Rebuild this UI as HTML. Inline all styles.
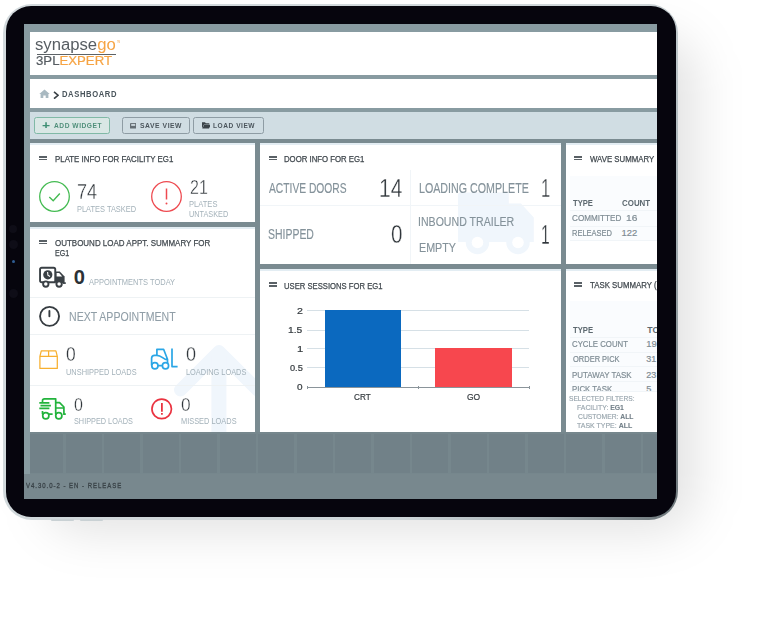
<!DOCTYPE html>
<html><head><meta charset="utf-8">
<style>
*{margin:0;padding:0;box-sizing:border-box}
html,body{width:768px;height:623px;overflow:hidden;background:#fff;font-family:"Liberation Sans",sans-serif}
.abs{position:absolute}
.t{position:absolute;white-space:nowrap;line-height:1;transform-origin:0 0}
#shadow{position:absolute;left:44px;top:36px;width:652px;height:496px;border-radius:40px;background:rgba(0,0,0,0.115);filter:blur(24px)}
#rim{position:absolute;left:3px;top:3.8px;width:674.8px;height:516.2px;border-radius:29px;background:linear-gradient(115deg,#d3dadd 0%,#cdd5d8 70%,#a5b0b4 85%,#6a7478 100%)}
#body{position:absolute;left:5.6px;top:5.6px;width:670.3px;height:511px;border-radius:25px;background:#06050d}
#screen{position:absolute;left:24px;top:24px;width:633px;height:475px;background:#889ba1;overflow:hidden}
</style></head><body>
<div id="shadow"></div>
<div id="rim"></div>
<div id="body"></div>
<div class="abs" style="left:50.5px;top:518.6px;width:23px;height:2.6px;border-radius:1.2px;background:#c9d1d4"></div>
<div class="abs" style="left:79.5px;top:518.6px;width:23.5px;height:2.6px;border-radius:1.2px;background:#c9d1d4"></div>
<div class="abs" style="left:9.4px;top:224.7px;width:8px;height:8px;border-radius:50%;background:#0e0d17"></div>
<div class="abs" style="left:9px;top:240.1px;width:9px;height:9px;border-radius:50%;background:#0e0d17"></div>
<div class="abs" style="left:12px;top:259.7px;width:3px;height:3px;border-radius:50%;background:#2f5d92"></div>
<div class="abs" style="left:9px;top:289.3px;width:9px;height:9px;border-radius:50%;background:#0e0d17"></div>
<div id="screen">
<div class="abs" style="left:6.30px;top:8.00px;width:669.70px;height:42.60px;background:#fff"></div>
<div class="t" style="left:11.13px;top:12.55px;font-size:15.600px;color:#575d62;transform:scaleX(1.070);">synapse<span style="color:#f6a444">go</span></div>
<div class="abs" style="left:12.80px;top:29.50px;width:79.20px;height:1.40px;background:#5d6367"></div>
<div class="t" style="left:12.41px;top:30.35px;font-size:13.380px;color:#575d62;transform:scaleX(0.986);-webkit-text-stroke:0.22px currentColor;">3PL<span style="color:#f6a444">EXPERT</span></div>
<div class="t" style="left:93.00px;top:16.50px;font-size:2.899px;color:#f6a444;transform:scaleX(0.750);">TM</div>
<div class="abs" style="left:6.30px;top:54.70px;width:669.70px;height:29.30px;background:#fff"></div>
<svg class="abs" style="left:15.00px;top:64.80px" width="11" height="9.5" viewBox="0 0 11 9.5"><path d="M5.5 0.5 L0.3 5 L1.6 5 L1.6 9.5 L4.3 9.5 L4.3 6.5 L6.7 6.5 L6.7 9.5 L9.4 9.5 L9.4 5 L10.7 5 Z" fill="#a9b9c1"/></svg>
<svg class="abs" style="left:28.50px;top:66.50px" width="6" height="8.5" viewBox="0 0 6 8.5"><path d="M1 0.8 L5 4.25 L1 7.7" fill="none" stroke="#3a4146" stroke-width="1.6"/></svg>
<div class="t" style="left:38.26px;top:66.90px;font-size:8.169px;color:#4a555c;font-weight:bold;letter-spacing:0.080em;transform:scaleX(0.935);">DASHBOARD</div>
<div class="abs" style="left:6.30px;top:88.10px;width:669.70px;height:26.60px;background:#d0dde3"></div>
<div class="abs" style="left:10.30px;top:92.80px;width:75.50px;height:17.40px;border:1.3px solid #80b9a6;border-radius:2.5px;background:#d9e7e5"></div>
<div class="t" style="left:17.72px;top:94.60px;font-size:11.765px;color:#3f8f74;font-weight:bold;transform:scaleX(1.180);">+</div>
<div class="t" style="left:29.60px;top:98.15px;font-size:7.746px;color:#4f8f7a;font-weight:bold;letter-spacing:0.080em;transform:scaleX(0.858);">ADD WIDGET</div>
<div class="abs" style="left:98.00px;top:92.60px;width:67.60px;height:17.20px;border:1.3px solid #8e9ca4;border-radius:2.5px"></div>
<svg class="abs" style="left:105.80px;top:98.50px" width="6.2" height="6.2" viewBox="0 0 6.2 6.2"><rect x="0" y="0" width="6.4" height="5.6" rx="0.5" fill="#646e74"/><rect x="1.2" y="0.9" width="4" height="2" fill="#c9d4da"/></svg>
<div class="t" style="left:115.94px;top:98.00px;font-size:7.887px;color:#4b555c;font-weight:bold;letter-spacing:0.080em;transform:scaleX(0.861);">SAVE VIEW</div>
<div class="abs" style="left:169.30px;top:92.60px;width:70.45px;height:17.20px;border:1.3px solid #8e9ca4;border-radius:2.5px"></div>
<svg class="abs" style="left:177.70px;top:98.30px" width="8.8" height="6.5" viewBox="0 0 8.8 6.5"><path d="M0 0.3 H3 L3.8 1.2 H7.3 V2.4 H2 L0 6.5 Z" fill="#3a4348"/><path d="M2.2 2.8 H8.8 L7 6.5 H0.3 Z" fill="#3a4348"/></svg>
<div class="t" style="left:189.36px;top:98.00px;font-size:7.887px;color:#4b555c;font-weight:bold;letter-spacing:0.080em;transform:scaleX(0.837);">LOAD VIEW</div>
<div class="abs" style="left:6.00px;top:114.70px;width:670.00px;height:335.00px;background:#7a8b91"></div>
<div class="abs" style="left:6.00px;top:118.50px;width:225.20px;height:79.90px;background:#fff;border-top:2.5px solid #e3edf3"></div>
<div class="abs" style="left:6.00px;top:202.90px;width:225.20px;height:205.10px;background:#fff;border-top:2.5px solid #e3edf3"></div>
<div class="abs" style="left:236.00px;top:118.50px;width:300.70px;height:121.20px;background:#fff;border-top:2.5px solid #e3edf3"></div>
<div class="abs" style="left:236.00px;top:245.00px;width:300.70px;height:163.50px;background:#fff;border-top:2.5px solid #e3edf3"></div>
<div class="abs" style="left:541.50px;top:118.50px;width:134.50px;height:121.50px;background:#fff;border-top:2.5px solid #e3edf3"></div>
<div class="abs" style="left:541.50px;top:245.00px;width:134.50px;height:163.50px;background:#fff;border-top:2.5px solid #e3edf3"></div>
<div class="abs" style="left:15.20px;top:132.00px;width:7.50px;height:1.80px;background:#5a6166"></div><div class="abs" style="left:15.20px;top:134.90px;width:7.50px;height:1.50px;background:#5a6166"></div>
<div class="t" style="left:30.67px;top:131.30px;font-size:8.451px;color:#40484e;transform:scaleX(0.934);-webkit-text-stroke:0.25px #40484e;">PLATE INFO FOR FACILITY EG1</div>
<svg class="abs" style="left:14.50px;top:157.00px" width="31" height="31" viewBox="0 0 31 31"><circle cx="15.5" cy="15.5" r="14.8" fill="none" stroke="#44bb52" stroke-width="1.3"/><path d="M10.3 16 L14.2 19.7 L20.8 12.6" fill="none" stroke="#44bb52" stroke-width="1.4"/></svg>
<div class="t" style="left:52.96px;top:156.95px;font-size:21.594px;color:#30363b;transform:scaleX(0.836);-webkit-text-stroke:0.35px #fff;">74</div>
<div class="t" style="left:53.02px;top:180.00px;font-size:9.577px;color:#a4b2ba;transform:scaleX(0.778);">PLATES TASKED</div>
<svg class="abs" style="left:126.80px;top:156.60px" width="31" height="31" viewBox="0 0 31 31"><circle cx="15.5" cy="15.5" r="14.8" fill="none" stroke="#ee4a50" stroke-width="1.3"/><path d="M15.5 7.5 V18.5" stroke="#ee4a50" stroke-width="1.5"/><circle cx="15.5" cy="22.6" r="1" fill="#ee4a50"/></svg>
<div class="t" style="left:165.50px;top:152.55px;font-size:20.143px;color:#30363b;transform:scaleX(0.795);-webkit-text-stroke:0.35px #fff;">21</div>
<div class="t" style="left:165.45px;top:176.15px;font-size:8.873px;color:#a4b2ba;transform:scaleX(0.853);">PLATES</div>
<div class="t" style="left:165.40px;top:186.70px;font-size:8.169px;color:#a4b2ba;transform:scaleX(0.895);">UNTASKED</div>
<div class="abs" style="left:15.40px;top:215.80px;width:7.50px;height:1.80px;background:#5a6166"></div><div class="abs" style="left:15.40px;top:218.70px;width:7.50px;height:1.50px;background:#5a6166"></div>
<div class="t" style="left:30.68px;top:214.25px;font-size:9.718px;color:#40484e;transform:scaleX(0.822);-webkit-text-stroke:0.25px #40484e;">OUTBOUND LOAD APPT. SUMMARY FOR</div>
<div class="t" style="left:30.69px;top:225.40px;font-size:8.732px;color:#40484e;transform:scaleX(0.812);-webkit-text-stroke:0.25px #40484e;">EG1</div>
<div class="abs" style="left:6.00px;top:203.00px;width:225.20px;height:205.00px;overflow:hidden">
<svg class="abs" style="left:0;top:0" width="226" height="205" viewBox="30 227 226 205"><path d="M180.5 390 L219 351.5 L257.5 390" fill="none" stroke="#f0f6fc" stroke-width="13" stroke-linecap="round" stroke-linejoin="round"/><path d="M218.9 356 V440" stroke="#f0f6fc" stroke-width="15"/></svg>
</div>
<svg class="abs" style="left:15.00px;top:242.00px" width="28" height="23" viewBox="0 0 28 23"><rect x="1.05" y="1.75" width="15.2" height="14.5" rx="1.6" fill="none" stroke="#3a4045" stroke-width="1.9"/><circle cx="8.8" cy="8.8" r="4.6" fill="#3a4045"/><path d="M8.6 6 L8.9 9.2 L11 10.4" fill="none" stroke="#fff" stroke-width="1.1"/><path d="M16.3 5.4 H20.8 L25.6 10.6 V17.2 H16.3 Z" fill="#3a4045"/><path d="M17.6 7 H20.2 L23.2 10.4 H17.6 Z" fill="#fff"/><rect x="24" y="16.3" width="2.8" height="1.6" fill="#3a4045"/><circle cx="6.8" cy="18.1" r="2.7" fill="#fff" stroke="#3a4045" stroke-width="1.9"/><circle cx="20.1" cy="18.1" r="2.7" fill="#fff" stroke="#3a4045" stroke-width="1.9"/></svg>
<div class="t" style="left:49.70px;top:243.15px;font-size:20.141px;color:#2b3136;font-weight:bold;">0</div>
<div class="t" style="left:64.90px;top:254.00px;font-size:8.451px;color:#a4b2ba;transform:scaleX(0.887);">APPOINTMENTS TODAY</div>
<div class="abs" style="left:6.00px;top:273.00px;width:225.20px;height:0.80px;background:#eef2f4"></div>
<svg class="abs" style="left:14.00px;top:281.00px" width="23" height="23" viewBox="0 0 23 23"><circle cx="11.55" cy="11.35" r="9.5" fill="none" stroke="#363c41" stroke-width="1.9"/><path d="M11.4 5.9 V11.2" stroke="#363c41" stroke-width="1.9" stroke-linecap="round"/></svg>
<div class="t" style="left:44.64px;top:286.75px;font-size:12.254px;color:#909ea7;transform:scaleX(0.862);-webkit-text-stroke:0.1px #909ea7;">NEXT APPOINTMENT</div>
<div class="abs" style="left:6.00px;top:310.00px;width:225.20px;height:0.80px;background:#eef2f4"></div>
<svg class="abs" style="left:15.00px;top:325.50px" width="20" height="20" viewBox="0 0 20 20"><path d="M2.3 0.9 H16.9 L18.3 6.4 V18.4 H0.9 V6.4 Z M0.9 6.4 H18.3 M9.6 0.9 V6.4" fill="none" stroke="#f7b030" stroke-width="1.25" stroke-linejoin="round"/></svg>
<div class="t" style="left:41.95px;top:320.10px;font-size:20.563px;color:#30363b;transform:scaleX(0.850);-webkit-text-stroke:0.35px #fff;">0</div>
<div class="t" style="left:41.95px;top:343.90px;font-size:8.732px;color:#a4b2ba;transform:scaleX(0.852);">UNSHIPPED LOADS</div>
<svg class="abs" style="left:126.00px;top:323.00px" width="29" height="24" viewBox="0 0 29 24"><path d="M22 1.6 V19.6 H27.6 M6.9 8.3 V2.3 H13.6 L17.5 12.2 V16.3 M17.5 12.9 C13 12.9 12 8.3 6.9 8.3 H4.6 Q1.6 8.3 1.6 11.3 V18.5 M8 18.6 H12.4" fill="none" stroke="#2aa6e6" stroke-width="1.7" stroke-linejoin="round"/><circle cx="4.9" cy="18.7" r="3.1" fill="#fff" stroke="#2aa6e6" stroke-width="1.7"/><circle cx="15.5" cy="18.7" r="3.1" fill="#fff" stroke="#2aa6e6" stroke-width="1.7"/></svg>
<div class="t" style="left:161.92px;top:320.10px;font-size:20.563px;color:#30363b;transform:scaleX(0.880);-webkit-text-stroke:0.35px #fff;">0</div>
<div class="t" style="left:161.92px;top:344.00px;font-size:8.451px;color:#a4b2ba;transform:scaleX(0.876);">LOADING LOADS</div>
<div class="abs" style="left:6.00px;top:360.50px;width:225.20px;height:0.80px;background:#eef2f4"></div>
<svg class="abs" style="left:14.00px;top:373.00px" width="29" height="23" viewBox="0 0 29 23"><path d="M4.5 5.7 V3.8 Q4.5 1.8 6.5 1.8 H17.7 V17.2 M4.5 14 V17.2 M9.6 17.2 H14.6 M1.3 5.9 H11.4 M2.5 8.6 H12.9 M1.3 11.3 H11.4 M17.7 5.7 H21.6 L25.9 10 V17.2 H27.8 M17.7 11 H25.9" fill="none" stroke="#22b33c" stroke-width="1.7" stroke-linejoin="round"/><circle cx="7.8" cy="18.7" r="3.1" fill="#fff" stroke="#22b33c" stroke-width="1.7"/><circle cx="20.8" cy="18.7" r="3.1" fill="#fff" stroke="#22b33c" stroke-width="1.7"/></svg>
<div class="t" style="left:50.46px;top:371.25px;font-size:19.014px;color:#30363b;transform:scaleX(0.844);-webkit-text-stroke:0.35px #fff;">0</div>
<div class="t" style="left:49.96px;top:393.30px;font-size:8.732px;color:#a4b2ba;transform:scaleX(0.838);">SHIPPED LOADS</div>
<svg class="abs" style="left:126.00px;top:373.00px" width="24" height="24" viewBox="0 0 24 24"><circle cx="11.7" cy="11.9" r="9.75" fill="none" stroke="#ea3340" stroke-width="1.7"/><path d="M11.9 6.1 V14.8" stroke="#ea3340" stroke-width="1.8"/><rect x="11" y="16" width="1.8" height="1.7" fill="#ea3340"/></svg>
<div class="t" style="left:156.89px;top:371.25px;font-size:19.014px;color:#30363b;transform:scaleX(0.911);-webkit-text-stroke:0.35px #fff;">0</div>
<div class="t" style="left:156.95px;top:393.30px;font-size:8.732px;color:#a4b2ba;transform:scaleX(0.850);">MISSED LOADS</div>
<svg class="abs" style="left:426.00px;top:161.00px" width="95" height="75" viewBox="0 0 95 75"><path d="M458 195 Q458 192.5 460.5 192.5 H508.8 V203.4 H521 L533.8 217.5 V242 H458 Z" transform="translate(-450,-185)" fill="#f0f6fc"/><circle cx="477.5" cy="242.5" r="11.7" transform="translate(-450,-185)" fill="#f0f6fc"/><circle cx="518" cy="242.5" r="11.7" transform="translate(-450,-185)" fill="#f0f6fc"/><circle cx="477.5" cy="242.5" r="5.8" transform="translate(-450,-185)" fill="#fff"/><circle cx="518" cy="242.5" r="5.8" transform="translate(-450,-185)" fill="#fff"/></svg>
<div class="abs" style="left:245.20px;top:132.00px;width:7.50px;height:1.80px;background:#5a6166"></div><div class="abs" style="left:245.20px;top:134.90px;width:7.50px;height:1.50px;background:#5a6166"></div>
<div class="t" style="left:259.59px;top:131.45px;font-size:8.592px;color:#40484e;transform:scaleX(0.907);-webkit-text-stroke:0.25px #40484e;">DOOR INFO FOR EG1</div>
<div class="abs" style="left:236.00px;top:180.50px;width:300.70px;height:0.80px;background:#f1f5f8"></div>
<div class="abs" style="left:385.60px;top:146.00px;width:0.80px;height:93.70px;background:#f1f5f8"></div>
<div class="t" style="left:244.60px;top:157.60px;font-size:13.803px;color:#84929a;transform:scaleX(0.744);-webkit-text-stroke:0.15px #84929a;">ACTIVE DOORS</div>
<div class="t" style="left:354.78px;top:151.75px;font-size:25.942px;color:#30363b;transform:scaleX(0.808);-webkit-text-stroke:0.35px #fff;">14</div>
<div class="t" style="left:243.84px;top:204.20px;font-size:13.803px;color:#84929a;transform:scaleX(0.758);-webkit-text-stroke:0.15px #84929a;">SHIPPED</div>
<div class="t" style="left:366.78px;top:198.35px;font-size:25.211px;color:#30363b;transform:scaleX(0.817);-webkit-text-stroke:0.35px #fff;">0</div>
<div class="t" style="left:394.53px;top:157.60px;font-size:13.803px;color:#84929a;transform:scaleX(0.774);-webkit-text-stroke:0.15px #84929a;">LOADING COMPLETE</div>
<div class="t" style="left:517.23px;top:151.75px;font-size:25.942px;color:#30363b;transform:scaleX(0.636);-webkit-text-stroke:0.35px #fff;">1</div>
<div class="t" style="left:394.49px;top:191.15px;font-size:13.099px;color:#84929a;transform:scaleX(0.809);-webkit-text-stroke:0.15px #84929a;">INBOUND TRAILER</div>
<div class="t" style="left:394.50px;top:216.75px;font-size:13.478px;color:#84929a;transform:scaleX(0.798);-webkit-text-stroke:0.15px #84929a;">EMPTY</div>
<div class="t" style="left:517.33px;top:197.50px;font-size:26.957px;color:#30363b;transform:scaleX(0.583);-webkit-text-stroke:0.35px #fff;">1</div>
<div class="abs" style="left:550.00px;top:132.00px;width:7.50px;height:1.80px;background:#5a6166"></div><div class="abs" style="left:550.00px;top:134.90px;width:7.50px;height:1.50px;background:#5a6166"></div>
<div class="t" style="left:566.40px;top:131.10px;font-size:8.732px;color:#40484e;transform:scaleX(0.897);-webkit-text-stroke:0.25px #40484e;">WAVE SUMMARY</div>
<div class="abs" style="left:545.50px;top:151.50px;width:130.50px;height:65.00px;background:#fafcfe"></div>
<div class="abs" style="left:545.50px;top:186.20px;width:130.50px;height:0.70px;background:#f1f5f8"></div>
<div class="abs" style="left:545.50px;top:201.60px;width:130.50px;height:0.70px;background:#f1f5f8"></div>
<div class="abs" style="left:545.50px;top:216.00px;width:130.50px;height:0.70px;background:#f1f5f8"></div>
<div class="t" style="left:549.00px;top:175.30px;font-size:9.275px;color:#5d6970;font-weight:bold;transform:scaleX(0.825);">TYPE</div>
<div class="t" style="left:598.20px;top:175.30px;font-size:9.014px;color:#5d6970;font-weight:bold;transform:scaleX(0.881);">COUNT</div>
<div class="t" style="left:548.15px;top:189.10px;font-size:9.577px;color:#7f8c94;transform:scaleX(0.852);-webkit-text-stroke:0.2px #7f8c94;">COMMITTED</div>
<div class="t" style="left:601.83px;top:189.10px;font-size:9.577px;color:#7f8c94;transform:scaleX(1.067);-webkit-text-stroke:0.2px #7f8c94;">16</div>
<div class="t" style="left:548.19px;top:205.10px;font-size:9.296px;color:#7f8c94;transform:scaleX(0.808);-webkit-text-stroke:0.2px #7f8c94;">RELEASED</div>
<div class="t" style="left:597.50px;top:204.10px;font-size:9.429px;color:#7f8c94;-webkit-text-stroke:0.2px #7f8c94;">122</div>
<div class="abs" style="left:245.20px;top:258.20px;width:7.50px;height:1.80px;background:#5a6166"></div><div class="abs" style="left:245.20px;top:261.10px;width:7.50px;height:1.50px;background:#5a6166"></div>
<div class="t" style="left:259.66px;top:257.65px;font-size:9.155px;color:#40484e;transform:scaleX(0.840);-webkit-text-stroke:0.25px #40484e;">USER SESSIONS FOR EG1</div>
<div class="abs" style="left:283.00px;top:286.10px;width:222.20px;height:0.80px;background:#d6e0e6"></div>
<div class="abs" style="left:283.00px;top:305.60px;width:222.20px;height:0.80px;background:#d6e0e6"></div>
<div class="abs" style="left:283.00px;top:324.10px;width:222.20px;height:0.80px;background:#d6e0e6"></div>
<div class="abs" style="left:283.00px;top:343.40px;width:222.20px;height:0.80px;background:#d6e0e6"></div>
<div class="abs" style="left:300.60px;top:286.10px;width:76.40px;height:76.90px;background:#0b69bf"></div>
<div class="abs" style="left:411.20px;top:324.40px;width:76.60px;height:38.60px;background:#f7474e"></div>
<div class="abs" style="left:282.50px;top:362.60px;width:223.20px;height:1.00px;background:#8a949a"></div>
<div class="abs" style="left:282.50px;top:362.40px;width:1.00px;height:3.10px;background:#8a949a"></div>
<div class="abs" style="left:393.60px;top:362.40px;width:1.00px;height:3.10px;background:#8a949a"></div>
<div class="abs" style="left:504.70px;top:362.40px;width:1.00px;height:3.10px;background:#8a949a"></div>
<div class="t" style="left:273.10px;top:282.70px;font-size:8.857px;color:#363c40;transform:scaleX(1.200);-webkit-text-stroke:0.2px #363c40;">2</div>
<div class="t" style="left:264.48px;top:301.95px;font-size:8.429px;color:#363c40;transform:scaleX(1.220);-webkit-text-stroke:0.2px #363c40;">1.5</div>
<div class="t" style="left:272.83px;top:320.85px;font-size:8.841px;color:#363c40;transform:scaleX(1.267);-webkit-text-stroke:0.2px #363c40;">1</div>
<div class="t" style="left:265.70px;top:339.85px;font-size:8.310px;color:#363c40;transform:scaleX(1.109);-webkit-text-stroke:0.2px #363c40;">0.5</div>
<div class="t" style="left:273.10px;top:358.85px;font-size:8.310px;color:#363c40;transform:scaleX(1.200);-webkit-text-stroke:0.2px #363c40;">0</div>
<div class="t" style="left:330.13px;top:367.85px;font-size:9.437px;color:#363c40;transform:scaleX(0.867);-webkit-text-stroke:0.2px #363c40;">CRT</div>
<div class="t" style="left:442.60px;top:367.85px;font-size:9.437px;color:#363c40;transform:scaleX(0.900);-webkit-text-stroke:0.2px #363c40;">GO</div>
<div class="abs" style="left:550.00px;top:258.20px;width:7.50px;height:1.80px;background:#5a6166"></div><div class="abs" style="left:550.00px;top:261.10px;width:7.50px;height:1.50px;background:#5a6166"></div>
<div class="t" style="left:566.40px;top:257.40px;font-size:8.451px;color:#40484e;transform:scaleX(0.927);-webkit-text-stroke:0.25px #40484e;">TASK SUMMARY (EG1)</div>
<div class="abs" style="left:545.50px;top:277.00px;width:130.50px;height:90.00px;background:#fafcfe"></div>
<div class="abs" style="left:545.50px;top:312.50px;width:130.50px;height:0.70px;background:#f1f5f8"></div>
<div class="abs" style="left:545.50px;top:327.50px;width:130.50px;height:0.70px;background:#f1f5f8"></div>
<div class="abs" style="left:545.50px;top:342.30px;width:130.50px;height:0.70px;background:#f1f5f8"></div>
<div class="abs" style="left:545.50px;top:357.00px;width:130.50px;height:0.70px;background:#f1f5f8"></div>
<div class="abs" style="left:545.50px;top:366.50px;width:130.50px;height:0.70px;background:#f1f5f8"></div>
<div class="t" style="left:549.00px;top:301.60px;font-size:8.986px;color:#5d6970;font-weight:bold;transform:scaleX(0.857);">TYPE</div>
<div class="t" style="left:623.30px;top:301.60px;font-size:8.732px;color:#5d6970;font-weight:bold;">TOTAL</div>
<div class="t" style="left:548.17px;top:315.45px;font-size:9.437px;color:#7f8c94;transform:scaleX(0.829);-webkit-text-stroke:0.2px #7f8c94;">CYCLE COUNT</div>
<div class="t" style="left:622.30px;top:315.45px;font-size:9.437px;color:#7f8c94;-webkit-text-stroke:0.2px #7f8c94;">19</div>
<div class="t" style="left:549.00px;top:331.40px;font-size:9.014px;color:#7f8c94;transform:scaleX(0.832);-webkit-text-stroke:0.2px #7f8c94;">ORDER PICK</div>
<div class="t" style="left:622.30px;top:331.40px;font-size:9.014px;color:#7f8c94;-webkit-text-stroke:0.2px #7f8c94;">31</div>
<div class="t" style="left:548.12px;top:346.50px;font-size:9.014px;color:#7f8c94;transform:scaleX(0.883);-webkit-text-stroke:0.2px #7f8c94;">PUTAWAY TASK</div>
<div class="t" style="left:622.30px;top:346.50px;font-size:9.014px;color:#7f8c94;-webkit-text-stroke:0.2px #7f8c94;">23</div>
<div class="abs" style="left:0;top:277.00px;width:640px;height:90.00px;overflow:hidden">
<div class="t" style="left:548.13px;top:84.10px;font-size:9.014px;color:#7f8c94;transform:scaleX(0.871);-webkit-text-stroke:0.2px #7f8c94;">PICK TASK</div>
<div class="t" style="left:622.30px;top:84.10px;font-size:9.143px;color:#7f8c94;-webkit-text-stroke:0.2px #7f8c94;">5</div>
</div>
<div class="t" style="left:544.53px;top:371.20px;font-size:7.606px;color:#97a4ac;transform:scaleX(0.874);-webkit-text-stroke:0.15px #97a4ac;">SELECTED FILTERS:</div>
<div class="t" style="left:553.10px;top:380.20px;font-size:7.606px;color:#97a4ac;transform:scaleX(0.904);-webkit-text-stroke:0.15px #97a4ac;">FACILITY: <b style="color:#6b7880">EG1</b></div>
<div class="t" style="left:554.00px;top:389.25px;font-size:7.746px;color:#97a4ac;transform:scaleX(0.874);-webkit-text-stroke:0.15px #97a4ac;">CUSTOMER: <b style="color:#6b7880">ALL</b></div>
<div class="t" style="left:553.11px;top:398.20px;font-size:7.887px;color:#97a4ac;transform:scaleX(0.886);-webkit-text-stroke:0.15px #97a4ac;">TASK TYPE: <b style="color:#6b7880">ALL</b></div>
<div class="abs" style="left:6.00px;top:408.00px;width:670.00px;height:41.70px;background:#76878d"></div>
<div class="abs" style="left:6.00px;top:410.00px;width:33.20px;height:38.70px;background:#718188"></div>
<div class="abs" style="left:41.80px;top:410.00px;width:35.90px;height:38.70px;background:#718188"></div>
<div class="abs" style="left:80.30px;top:410.00px;width:35.90px;height:38.70px;background:#718188"></div>
<div class="abs" style="left:118.80px;top:410.00px;width:35.90px;height:38.70px;background:#718188"></div>
<div class="abs" style="left:157.30px;top:410.00px;width:35.90px;height:38.70px;background:#718188"></div>
<div class="abs" style="left:195.80px;top:410.00px;width:35.90px;height:38.70px;background:#718188"></div>
<div class="abs" style="left:234.30px;top:410.00px;width:35.90px;height:38.70px;background:#718188"></div>
<div class="abs" style="left:272.80px;top:410.00px;width:35.90px;height:38.70px;background:#718188"></div>
<div class="abs" style="left:311.30px;top:410.00px;width:35.90px;height:38.70px;background:#718188"></div>
<div class="abs" style="left:349.80px;top:410.00px;width:35.90px;height:38.70px;background:#718188"></div>
<div class="abs" style="left:388.30px;top:410.00px;width:35.90px;height:38.70px;background:#718188"></div>
<div class="abs" style="left:426.80px;top:410.00px;width:35.90px;height:38.70px;background:#718188"></div>
<div class="abs" style="left:465.30px;top:410.00px;width:35.90px;height:38.70px;background:#718188"></div>
<div class="abs" style="left:503.80px;top:410.00px;width:35.90px;height:38.70px;background:#718188"></div>
<div class="abs" style="left:542.30px;top:410.00px;width:35.90px;height:38.70px;background:#718188"></div>
<div class="abs" style="left:580.80px;top:410.00px;width:35.90px;height:38.70px;background:#718188"></div>
<div class="abs" style="left:619.30px;top:410.00px;width:35.90px;height:38.70px;background:#718188"></div>
<div class="abs" style="left:0.00px;top:449.70px;width:676.00px;height:25.30px;background:#78888e"></div>
<div class="t" style="left:1.90px;top:458.45px;font-size:7.746px;color:#394247;letter-spacing:0.160em;transform:scaleX(0.780);-webkit-text-stroke:0.3px #394247;">V4.30.0-2 - EN - RELEASE</div>
</div>
</body></html>
